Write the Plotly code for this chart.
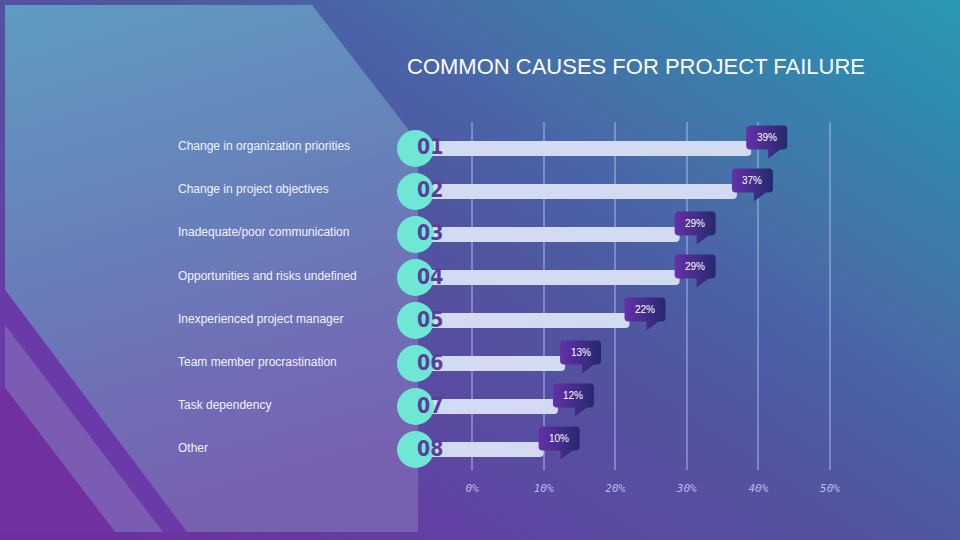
import base64
import plotly.graph_objects as go

# ---------------- data ----------------
causes = [
    "Change in organization priorities",
    "Change in project objectives",
    "Inadequate/poor communication",
    "Opportunities and risks undefined",
    "Inexperienced project manager",
    "Team member procrastination",
    "Task dependency",
    "Other",
]
numbers = ["01", "02", "03", "04", "05", "06", "07", "08"]
percent = [39, 37, 29, 29, 22, 13, 12, 10]
tick_vals = [0, 10, 20, 30, 40, 50]
tick_text = ["0%", "10%", "20%", "30%", "40%", "50%"]
title_text = "COMMON CAUSES FOR PROJECT FAILURE"

# ---------------- layout geometry (pixels) ----------------
W, H = 960, 540
PX0 = 472.0          # pixel of 0 %
PX_PER = 7.16        # pixels per 1 %
ROW0 = 148.5         # pixel centre of first row
PITCH = 43.0         # pixels per row
PLOT_L, PLOT_R = 380.0, 880.0
PLOT_T, PLOT_B = 122.0, 470.0

x_range = [(PLOT_L - PX0) / PX_PER, (PLOT_R - PX0) / PX_PER]
y_range = [(PLOT_B - ROW0) / PITCH, (PLOT_T - ROW0) / PITCH]
CIRCLE_X = (415.5 - PX0) / PX_PER

rows = list(range(len(causes)))

# ---------------- background (svg image) ----------------
svg = """<svg xmlns="http://www.w3.org/2000/svg" width="960" height="540" viewBox="0 0 960 540" preserveAspectRatio="none">
<defs>
<linearGradient id="bg" gradientUnits="userSpaceOnUse" x1="960" y1="0" x2="400" y2="840">
<stop offset="0" stop-color="#2a9ab0"/>
<stop offset="0.093" stop-color="#2e8cb0"/>
<stop offset="0.28" stop-color="#4670a8"/>
<stop offset="0.357" stop-color="#4a62a8"/>
<stop offset="0.46" stop-color="#5056a0"/>
<stop offset="0.63" stop-color="#5a4aa2"/>
<stop offset="0.71" stop-color="#6242a4"/>
<stop offset="0.91" stop-color="#6c30a0"/>
</linearGradient>
<linearGradient id="panel" gradientUnits="userSpaceOnUse" x1="0" y1="5" x2="150" y2="532">
<stop offset="0" stop-color="#5f9bc0"/>
<stop offset="0.4" stop-color="#6684ba"/>
<stop offset="0.75" stop-color="#706eb6"/>
<stop offset="1" stop-color="#7860b0"/>
</linearGradient>
</defs>
<rect width="960" height="540" fill="url(#bg)"/>
<polygon points="5,5 312,5 418,142 418,532 5,532" fill="url(#panel)"/>
<polygon points="0,283 187,532 0,532" fill="#6a3aa8"/>
<polygon points="5,325 163,532 115,532 5,388" fill="#7a5cb2"/>
<polygon points="0,388 5,388 115,532 0,532" fill="#7030a0"/>
</svg>"""
bg_src = "data:image/svg+xml;base64," + base64.b64encode(svg.encode()).decode()

fig = go.Figure()

# bars (start behind the circles)
fig.add_trace(go.Bar(
    orientation="h",
    y=rows,
    x=[p - CIRCLE_X for p in percent],
    base=CIRCLE_X,
    width=0.35,
    marker=dict(color="#d3dbf3", line=dict(width=0), cornerradius=4),
    hoverinfo="skip",
))

# circles
fig.add_trace(go.Scatter(
    x=[CIRCLE_X] * len(rows), y=rows, mode="markers",
    marker=dict(size=37, color="#6fe7d5", line=dict(width=0)),
    hoverinfo="skip",
))

# callouts (pixel offsets converted through axis scale)
L, R, T, B = -5.0, 36.0, 23.0, -1.0
r = 3.0
c = r * 0.3
outline = [
    (L + r, T), (R - r, T), (R - c, T - c), (R, T - r),
    (R, B + r), (R - c, B + c), (R - r, B),
    (L + 34, B), (L + 22, B - 9), (L + 22, B),
    (L + r, B), (L + c, B + c), (L, B + r),
    (L, T - r), (L + c, T - c), (L + r, T),
]
for p, row in zip(percent, rows):
    xs = [p + dx / PX_PER for dx, dy in outline]
    ys = [row - dy / PITCH for dx, dy in outline]
    fig.add_trace(go.Scatter(
        x=xs, y=ys, mode="lines", fill="toself",
        line=dict(width=0, color="rgba(0,0,0,0)"),
        fillgradient=dict(type="horizontal",
                          colorscale=[[0, "#6630a8"], [1, "#24296e"]]),
        hoverinfo="skip",
    ))

annotations = []
for p, row, n, cause in zip(percent, rows, numbers, causes):
    annotations.append(dict(
        x=p, y=row, xref="x", yref="y", text=f"{p}%", showarrow=False,
        xshift=(L + R) / 2, yshift=(T + B) / 2,
        font=dict(family="Liberation Sans, Arial", size=10, color="#ffffff"),
    ))
    annotations.append(dict(
        x=CIRCLE_X, y=row, xref="x", yref="y", text=f"<b>{n}</b>", showarrow=False,
        xshift=14, yshift=1,
        font=dict(family="Liberation Sans Narrow, DejaVu Sans Condensed, Arial Narrow", size=21, color="#5b3e9c"),
    ))
    annotations.append(dict(
        x=176 / W, y=row, xref="paper", yref="y", text=cause, showarrow=False,
        xanchor="left", yshift=2,
        font=dict(family="Liberation Sans, Arial", size=12, color="#f2f2ff"),
    ))

annotations.append(dict(
    x=636 / W, y=1 - 66 / H, xref="paper", yref="paper", text=title_text,
    showarrow=False, xanchor="center", yanchor="middle",
    font=dict(family="Liberation Sans, Arial", size=22, color="#ffffff"),
))

fig.update_layout(
    width=W, height=H,
    margin=dict(l=0, r=0, t=0, b=0),
    paper_bgcolor="#4a5ea6",
    plot_bgcolor="rgba(0,0,0,0)",
    showlegend=False,
    hovermode=False,
    barmode="overlay",
    images=[dict(source=bg_src, xref="paper", yref="paper", x=0, y=1,
                 sizex=1, sizey=1, sizing="stretch", xanchor="left",
                 yanchor="top", layer="below")],
    xaxis=dict(
        domain=[PLOT_L / W, PLOT_R / W], range=x_range,
        tickvals=tick_vals, ticktext=tick_text,
        showgrid=True, gridcolor="rgba(185,195,240,0.45)", gridwidth=2,
        zeroline=False, showline=False,
        ticks="outside", ticklen=8, tickcolor="rgba(0,0,0,0)",
        tickfont=dict(family="DejaVu Sans Mono", size=11,
                      color="rgba(200,200,245,0.9)", style="italic"),
        fixedrange=True,
    ),
    yaxis=dict(
        domain=[1 - PLOT_B / H, 1 - PLOT_T / H], range=y_range,
        showgrid=False, zeroline=False, showline=False,
        showticklabels=False, ticks="", fixedrange=True,
    ),
    annotations=annotations,
)

fig.write_html("out.html")
